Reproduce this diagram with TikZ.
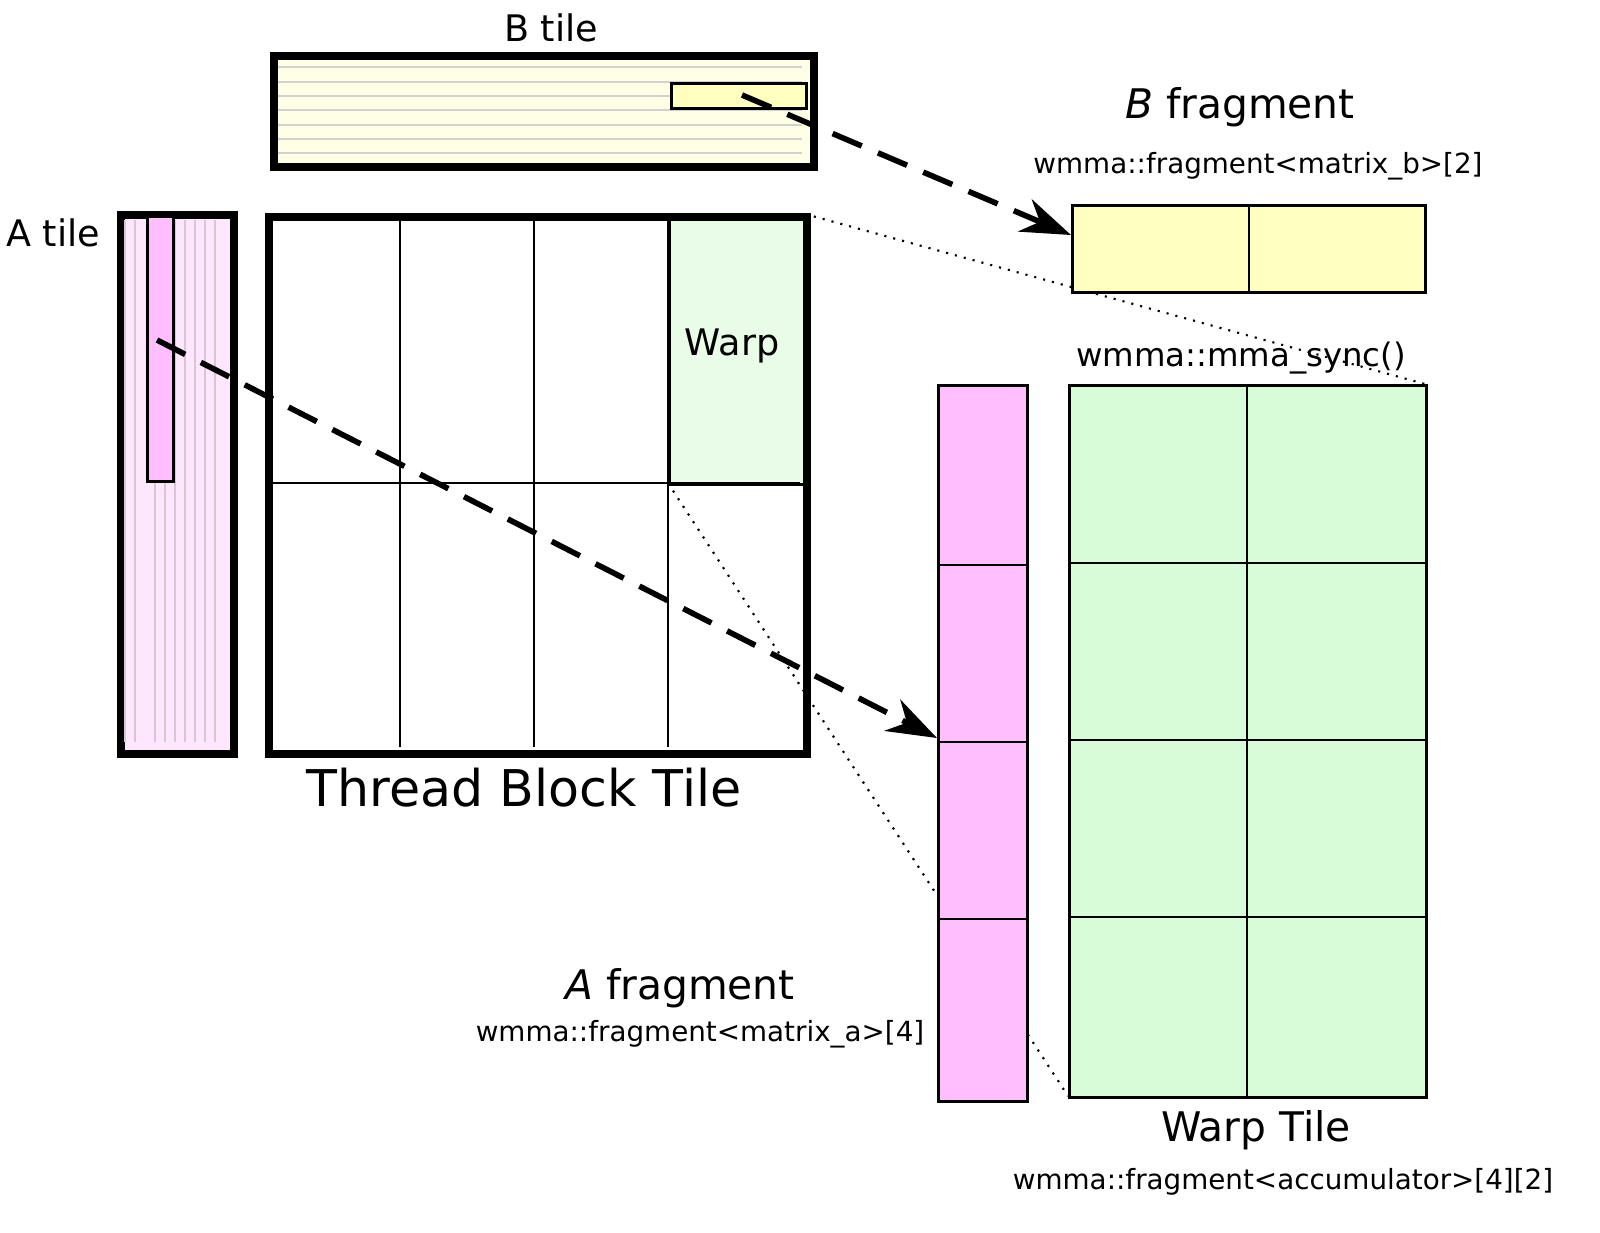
\documentclass[tikz,border=0pt]{standalone}
\usepackage{fontspec}
\setmainfont{DejaVu Sans}
\usetikzlibrary{arrows.meta}
\definecolor{bpale}{HTML}{FFFFE6}
\definecolor{bfill}{HTML}{FFFFC0}
\definecolor{apale}{HTML}{FFE6FF}
\definecolor{afill}{HTML}{FFBFFF}
\definecolor{wpale}{HTML}{E8FCE8}
\definecolor{wfill}{HTML}{D8FCD8}

\begin{document}
\begin{tikzpicture}[x=0.01cm,y=-0.01cm,
    tile/.style={draw=black,line width=2.2pt,anchor=north west,inner sep=0pt},
    cell/.style={draw=black,line width=0.8pt,anchor=north west,inner sep=0pt},
    divider/.style={draw=black,line width=0.6pt},
    stripe/.style={line width=0.5pt},
    load/.style={line width=1.6pt,dash pattern=on 9pt off 5pt,-{Stealth[length=5mm,width=3.5mm]}},
    map/.style={line width=0.6pt,dotted},
    title/.style={font=\fontsize{10.4}{12}\selectfont},
    fraglabel/.style={font=\fontsize{11.6}{13}\selectfont},
    code/.style={font=\fontsize{7.9}{9}\selectfont}]

    % dotted mapping lines (under the fragments)
    \coordinate (tbwarpNE) at (805,214);
    \coordinate (tbwarpSW) at (668,483);
    \coordinate (wtNE) at (1425,384);
    \coordinate (wtSW) at (1068,1096);
    \draw[map] (tbwarpNE) -- (wtNE);
    \draw[map] (tbwarpSW) -- (wtSW);

    % B tile
    \node[tile,fill=bpale,minimum width=5.4cm,minimum height=1.11cm] (btile) at (270,52) {};
    \foreach \y in {67,82,96,110,125,139,153}
        \draw[stripe,draw=black!18] (278,\y) -- (802,\y);
    \node[cell,fill=bfill,minimum width=1.35cm,minimum height=0.25cm] (bsub) at (670,82) {};
    \node at (551,28) [title] {B tile};

    % A tile
    \node[tile,fill=apale,minimum width=1.13cm,minimum height=5.39cm] (atile) at (117,211) {};
    \foreach \x in {125,135,155,165,175,185,195,205,215}
        \draw[stripe,draw=magenta!25!black!25] (\x,220) -- (\x,742);
    \node[cell,fill=afill,minimum width=0.26cm,minimum height=2.65cm] (asub) at (146,215) {};
    \node at (53,233) [title] {A tile};

    % thread block tile
    \node[cell,fill=wpale,minimum width=1.35cm,minimum height=2.7cm] (tbwarp) at (668,213) {};
    \node[tile,minimum width=5.38cm,minimum height=5.37cm] (tb) at (265,213) {};
    \foreach \x in {400,534,668}
        \draw[divider] (\x,216) -- (\x,747);
    \draw[divider] (268,483) -- (800,483);
    \node at (732,346) [title] {Warp};
    \node at (524,788) [font=\fontsize{14.4}{16}\selectfont] {Thread Block Tile};

    % B fragment
    \node[cell,fill=bfill,minimum width=3.53cm,minimum height=0.87cm] (bfrag) at (1071,204) {};
    \draw[divider] (1249,204) -- (1249,291);
    \node at (1240,107) [fraglabel] {\textit{B} fragment};
    \node at (1258,166) [code] {wmma::fragment<matrix\_b>[2]};

    % A fragment
    \node[cell,fill=afill,minimum width=0.89cm,minimum height=7.16cm] (afrag) at (937,384) {};
    \foreach \y in {565,742,919}
        \draw[divider] (937,\y) -- (1026,\y);
    \node at (680,988) [fraglabel] {\textit{A} fragment};
    \node at (700,1034) [code] {wmma::fragment<matrix\_a>[4]};

    % warp tile
    \node[cell,fill=wfill,minimum width=3.57cm,minimum height=7.12cm] (wt) at (1068,384) {};
    \draw[divider] (1247,384) -- (1247,1096);
    \foreach \y in {563,740,917}
        \draw[divider] (1068,\y) -- (1425,\y);
    \node at (1241,358) [font=\fontsize{9.2}{11}\selectfont] {wmma::mma\_sync()};
    \node at (1256,1130) [fraglabel] {Warp Tile};
    \node at (1283,1182) [code] {wmma::fragment<accumulator>[4][2]};

    % loads
    \coordinate (bsrc) at (742,95);
    \coordinate (asrc) at (157,340);
    \draw[load] (bsrc) -- (bfrag.west |- 0,235);
    \draw[load] (asrc) -- (afrag.west |- 0,738);

    \pgfresetboundingbox
    \useasboundingbox (0,0) rectangle (1600,1232);
\end{tikzpicture}
\end{document}
